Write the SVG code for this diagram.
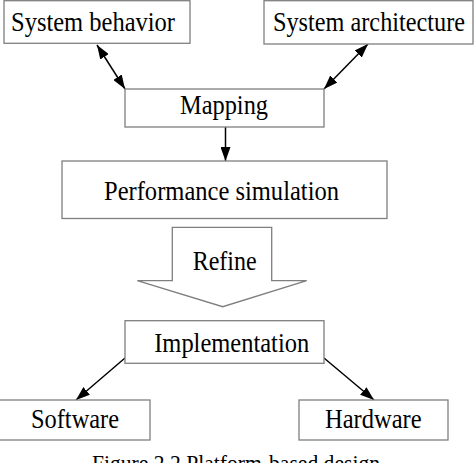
<svg xmlns="http://www.w3.org/2000/svg" width="474" height="463" viewBox="0 0 474 463">
<defs>
<style>
.box{fill:#fff;stroke:#7f7f7f;stroke-width:1.3}
.t{font-family:"Liberation Serif","Times New Roman",serif;font-size:26.5px;fill:#000;text-anchor:middle}
.c{stroke:#000;stroke-width:1.5;fill:none}
</style>
<marker id="ah" viewBox="0 0 14 10" refX="14" refY="5" markerWidth="14" markerHeight="10" markerUnits="userSpaceOnUse" orient="auto-start-reverse">
<path d="M0,0 L14,5 L0,10 Z" fill="#000"/>
</marker>
</defs>
<rect width="474" height="463" fill="#fff"/>
<g id="connectors">
<line class="c" x1="97" y1="45" x2="125" y2="89" marker-start="url(#ah)" marker-end="url(#ah)"/>
<line class="c" x1="368" y1="44" x2="324" y2="89" marker-start="url(#ah)" marker-end="url(#ah)"/>
<line class="c" x1="225.5" y1="127" x2="225.5" y2="161" marker-end="url(#ah)"/>
<line class="c" x1="125" y1="358" x2="76" y2="400" marker-end="url(#ah)"/>
<line class="c" x1="324" y1="358" x2="374" y2="400" marker-end="url(#ah)"/>
</g>
<g id="system-behavior">
<rect class="box" x="4" y="0.7" width="186" height="42.6"/>
<text class="t" x="93" y="31" textLength="164" lengthAdjust="spacingAndGlyphs">System behavior</text>
</g>
<g id="system-architecture">
<rect class="box" x="264" y="0.7" width="209" height="43.3"/>
<text class="t" x="369" y="31" textLength="192" lengthAdjust="spacingAndGlyphs">System architecture</text>
</g>
<g id="mapping">
<rect class="box" x="125" y="89" width="199" height="38"/>
<text class="t" x="224" y="113.5" textLength="88" lengthAdjust="spacingAndGlyphs">Mapping</text>
</g>
<g id="performance-simulation">
<rect class="box" x="62" y="161" width="325" height="57.5"/>
<text class="t" x="221.5" y="199.5" textLength="235" lengthAdjust="spacingAndGlyphs">Performance simulation</text>
</g>
<g id="refine">
<path class="box" d="M172.3,227.3 L271.7,227.3 L271.7,280.7 L306.7,280.7 L222.7,306.7 L137.3,280.7 L172.3,280.7 Z"/>
<text class="t" x="224.7" y="270" textLength="64" lengthAdjust="spacingAndGlyphs">Refine</text>
</g>
<g id="implementation">
<rect class="box" x="125" y="320.7" width="199" height="42.6"/>
<text class="t" x="231.7" y="352" textLength="155" lengthAdjust="spacingAndGlyphs">Implementation</text>
</g>
<g id="software">
<rect class="box" x="-1" y="400" width="151" height="40"/>
<text class="t" x="75" y="428" textLength="88" lengthAdjust="spacingAndGlyphs">Software</text>
</g>
<g id="hardware">
<rect class="box" x="299" y="400" width="149" height="40"/>
<text class="t" x="373.3" y="428" textLength="96.7" lengthAdjust="spacingAndGlyphs">Hardware</text>
</g>
<text class="t" x="236" y="471" style="font-size:24px" textLength="288" lengthAdjust="spacingAndGlyphs">Figure 2.2 Platform-based design</text>
</svg>
